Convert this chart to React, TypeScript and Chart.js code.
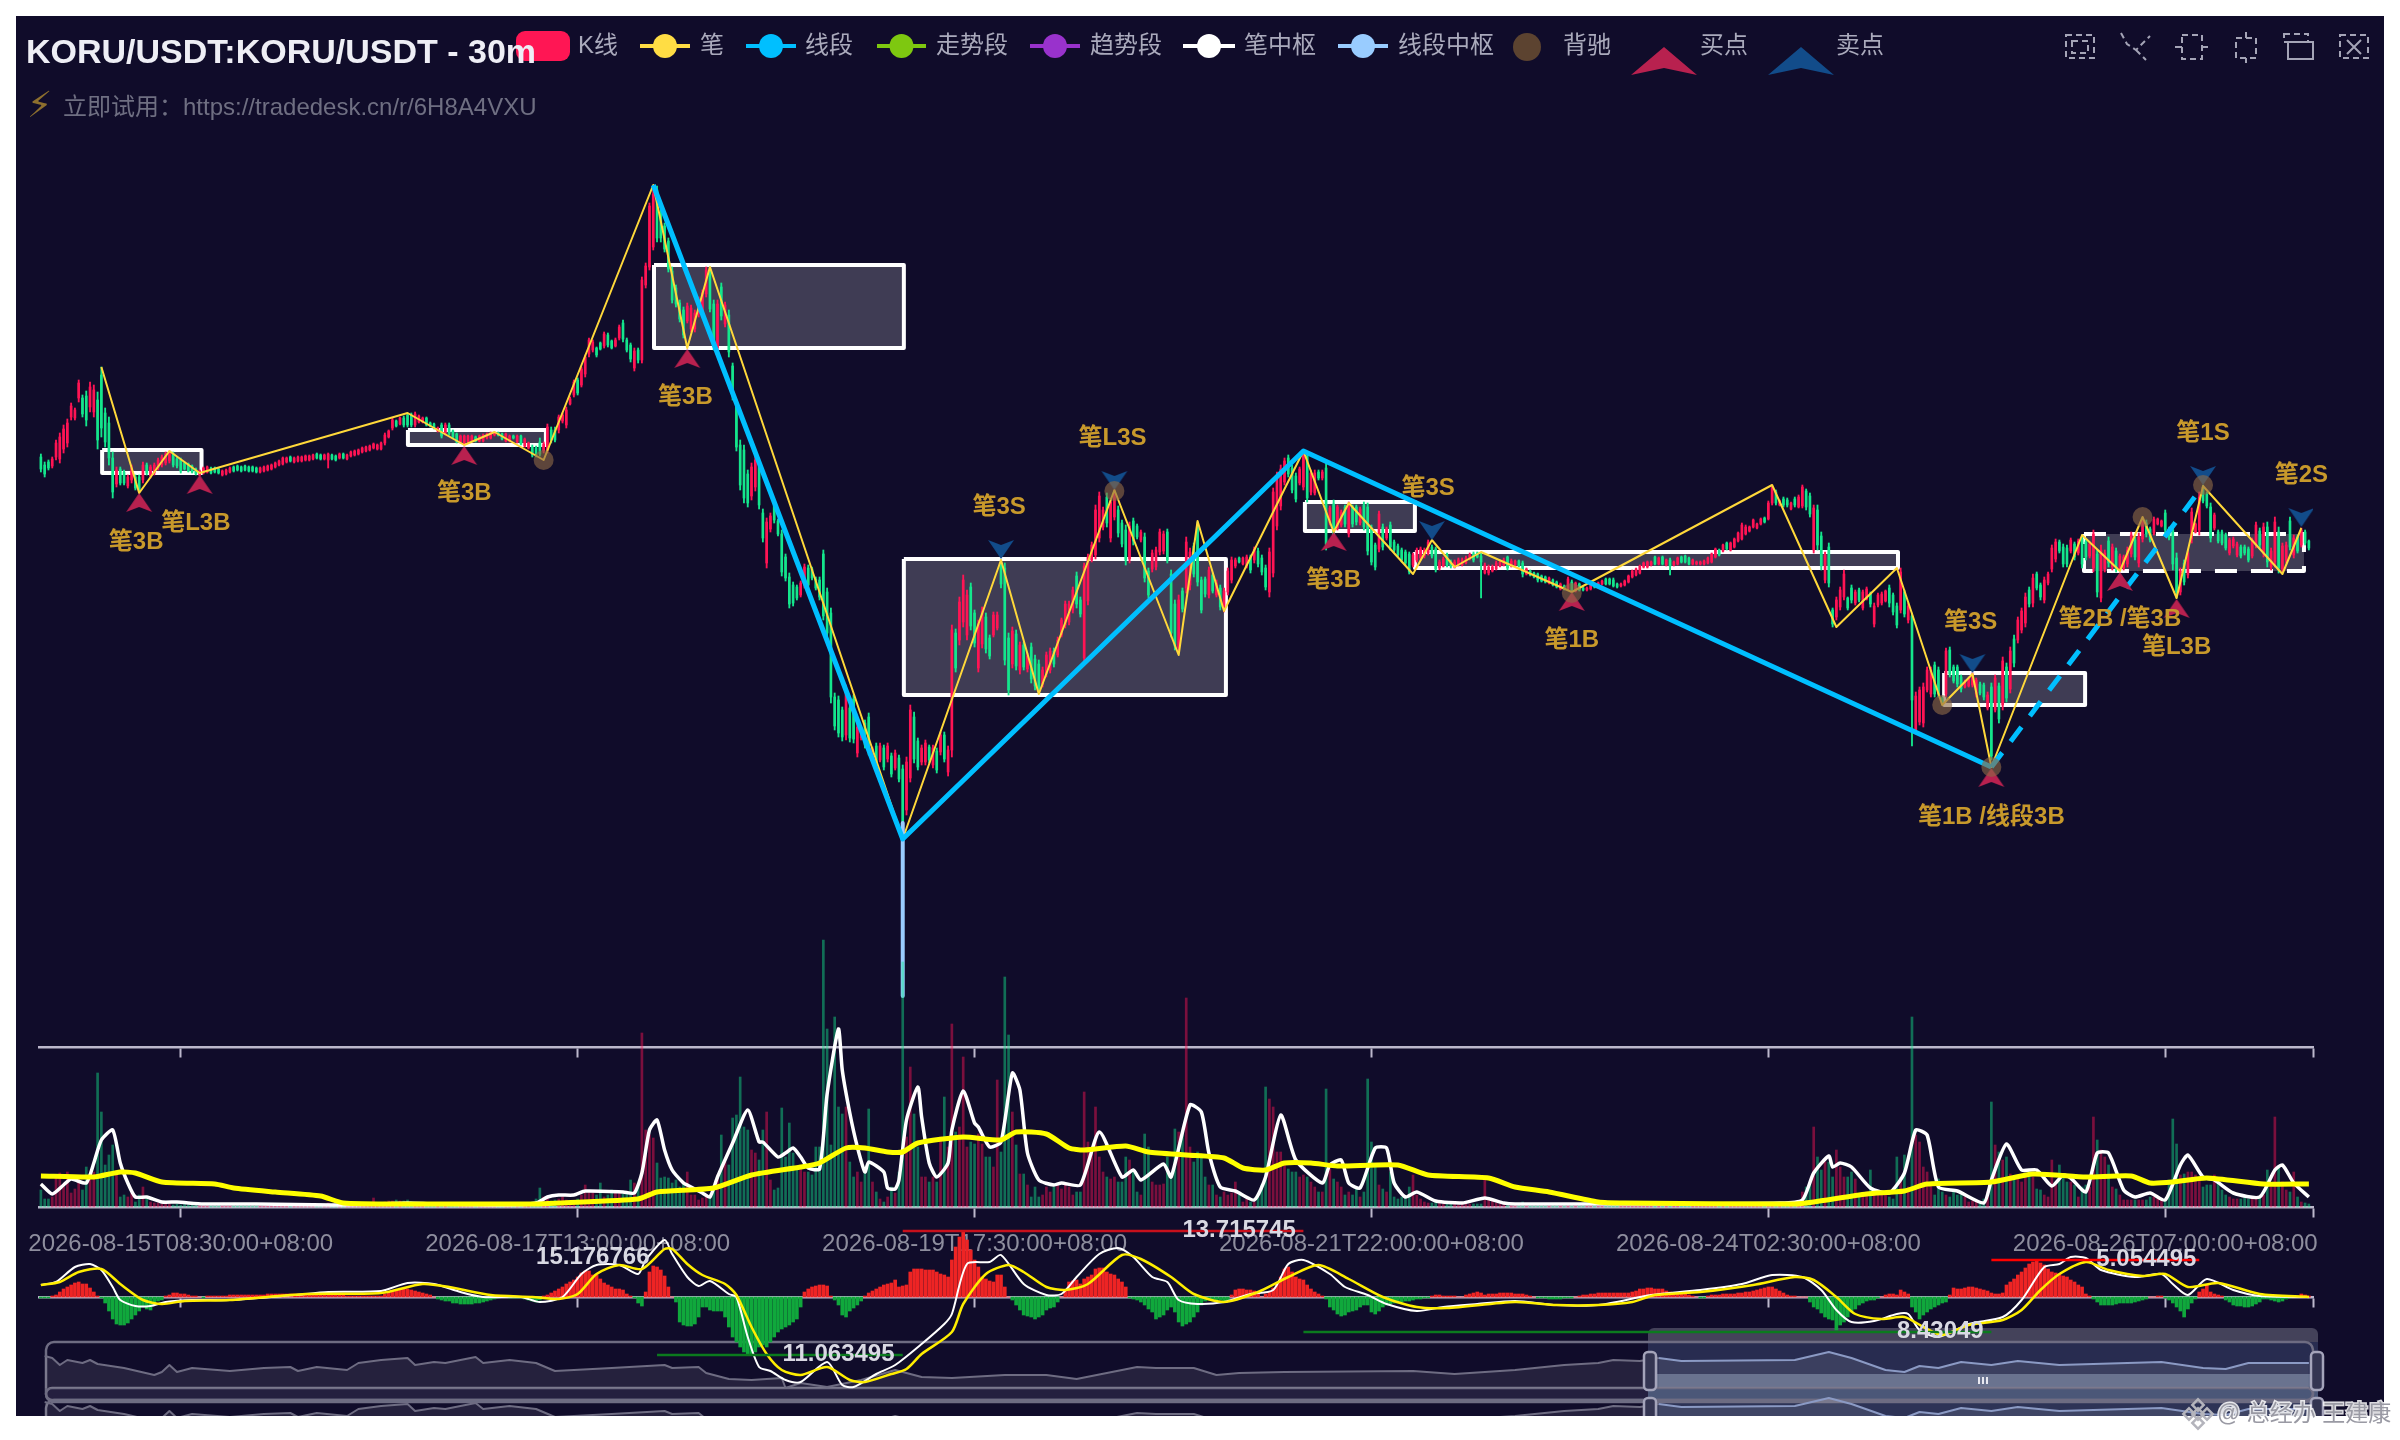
import React, { useEffect, useRef } from "react";
import { Chart, registerables } from "chart.js";
Chart.register(...registerables);

const titleText = "KORU/USDT:KORU/USDT - 30m";
const subtitleText = "立即试用：https://tradedesk.cn/r/6H8A4VXU";
const tickBars = [37, 142, 247, 352, 457, 562, 601.09];
const tickNames = ["2026-08-15T08:30:00+08:00", "2026-08-17T13:00:00+08:00", "2026-08-19T17:30:00+08:00", "2026-08-21T22:00:00+08:00", "2026-08-24T02:30:00+08:00", "2026-08-26T07:00:00+08:00", ""];

const highs = [
546,538,540,543,560,567,575,581,597,592,
620,605,609,618,615,608,633,592,583,548,
533,533,530,525,535,525,525,538,537,535,
537,542,545,548,549,548,543,542,538,537,
535,532,530,533,534,533,533,532,530,531,
533,534,535,534,535,534,534,533,533,534,
535,536,538,540,543,543,544,543,544,544,
545,545,546,547,546,546,547,546,545,547,
547,546,549,550,551,553,554,555,557,556,
558,567,570,582,580,583,584,587,587,588,
585,583,583,578,577,573,577,577,577,570,
567,565,565,565,565,564,565,566,567,568,
568,568,567,567,565,565,565,565,562,558,
555,554,562,558,576,573,573,585,587,593,
603,620,622,633,645,662,660,653,658,668,
667,660,662,675,680,662,657,652,652,723,
737,797,810,814,791,777,762,733,715,700,
693,697,695,690,703,710,733,733,700,700,
717,698,690,637,600,560,555,530,537,544,
542,491,482,487,500,481,470,446,427,418,
415,419,436,435,433,423,423,450,412,392,
307,304,293,315,295,305,277,273,280,287,
253,257,257,255,257,247,250,245,235,243,
295,288,262,255,260,255,255,252,268,268,
254,375,371,403,425,410,417,390,380,393,
387,365,388,388,440,437,367,373,370,358,
358,347,357,345,340,333,348,352,352,363,
382,399,399,413,428,403,437,446,458,495,
508,493,507,502,510,494,480,475,478,482,
476,470,467,432,450,453,471,469,471,430,
400,405,412,463,452,457,478,423,423,433,
427,420,415,412,432,443,442,443,443,445,
445,453,452,445,435,452,512,528,535,542,
545,535,527,533,548,548,530,530,530,530,
538,494,500,495,490,495,498,495,495,493,
498,497,475,457,489,476,473,478,460,456,
452,450,448,447,452,453,452,460,455,453,
440,443,447,440,440,442,442,444,447,448,
448,447,437,435,435,439,440,442,444,441,
440,440,439,432,430,428,427,425,424,423,
421,419,417,415,423,420,418,417,413,413,
416,417,418,420,422,422,422,417,417,420,
425,430,432,435,438,439,439,444,443,444,
441,442,439,443,444,445,443,441,439,439,
440,443,447,452,451,456,458,458,462,468,
477,475,474,481,477,482,483,499,515,510,
500,503,502,498,503,505,515,511,507,495,
495,468,448,457,392,403,413,430,403,415,
410,412,410,413,408,397,407,408,410,415,
407,397,432,410,397,387,308,313,317,333,
333,338,333,303,352,353,335,335,325,320,
323,327,322,318,317,308,317,325,317,343,
337,353,365,383,392,407,413,426,428,417,
423,428,455,461,460,456,455,462,458,461,
465,460,458,470,450,455,450,463,456,452,
446,445,453,468,463,467,482,480,473,483,
482,480,490,473,475,447,432,440,450,492,
477,508,515,508,497,487,470,470,467,462,
463,458,455,455,453,462,478,472,477,478,
452,483,473,457,458,483,465,465,472,470,
460];

const lows = [
528,523,530,532,540,537,547,553,580,580,
598,583,574,588,583,551,563,553,535,502,
513,515,515,512,517,510,507,517,525,522,
525,530,533,535,537,533,532,527,530,528,
527,525,524,526,527,526,527,526,524,525,
527,528,529,528,529,528,528,527,527,528,
529,530,532,534,535,537,538,537,538,538,
539,539,540,541,540,540,532,540,539,541,
541,540,543,544,545,547,548,549,551,550,
550,555,562,570,573,575,573,573,573,573,
577,577,574,573,571,568,562,565,565,562,
557,557,555,557,558,558,558,558,561,561,
564,564,560,558,558,561,557,555,553,551,
543,543,544,547,547,557,558,567,577,572,
595,603,605,613,623,643,648,643,650,652,
653,651,653,660,658,648,638,629,637,637,
712,730,750,758,758,748,728,697,693,678,
662,677,668,668,683,683,703,688,650,648,
680,673,643,600,549,510,497,493,500,509,
491,458,432,468,477,464,424,419,392,394,
400,403,412,412,420,410,400,380,363,297,
270,263,259,260,258,257,243,260,252,245,
240,233,238,230,238,223,230,218,162,185,
218,237,230,235,235,237,232,227,245,238,
224,243,328,355,373,360,370,353,328,352,
347,341,363,370,412,335,305,332,330,326,
330,328,317,310,307,313,323,327,333,343,
363,372,375,387,392,383,338,395,438,441,
458,470,473,458,480,463,453,435,437,455,
461,458,418,402,428,430,445,446,437,363,
350,347,388,407,410,423,414,387,403,402,
407,403,390,388,405,417,432,437,435,432,
427,437,433,425,410,403,423,470,490,515,
523,507,498,515,510,498,505,505,520,520,
450,475,460,470,473,473,463,473,475,475,
470,445,435,430,448,450,460,450,448,443,
438,435,426,433,438,440,442,445,442,428,
430,433,433,432,432,434,434,436,440,438,
442,402,426,425,428,430,433,434,430,433,
434,433,423,425,424,422,418,418,417,416,
414,412,410,410,410,408,408,409,409,409,
410,412,412,415,415,415,413,412,413,414,
417,422,424,426,432,432,434,435,435,435,
434,425,434,435,437,437,435,435,435,435,
435,436,437,442,444,448,450,449,452,458,
460,465,468,472,471,475,477,480,495,495,
494,493,493,490,493,492,492,490,483,447,
450,430,417,413,373,380,390,400,390,397,
395,398,390,400,393,373,393,395,398,393,
385,372,387,383,377,254,267,275,273,308,
303,303,303,295,303,323,317,313,308,312,
313,313,303,305,300,290,240,288,277,290,
298,307,333,357,367,373,393,393,410,400,
397,415,428,438,447,433,433,447,440,445,
432,440,442,428,403,398,428,433,430,428,
430,430,433,443,440,433,458,463,458,465,
475,473,467,460,430,402,405,415,422,457,
467,465,497,492,458,470,457,455,450,445,
452,443,442,445,438,442,452,452,443,433,
430,433,427,428,437,450,442,447,453,455,
450];

const opens = [
543,535,538,534,543,541,551,557,583,582,
602,602,604,593,588,600,625,587,577,542,
516,531,528,514,520,523,523,520,535,524,
527,532,535,537,539,546,541,540,537,536,
534,531,525,527,528,532,532,531,525,526,
528,533,534,533,534,533,533,532,528,529,
530,531,533,535,536,538,543,538,539,539,
540,540,541,546,545,541,540,545,544,542,
546,541,544,545,546,548,549,550,552,551,
551,557,563,572,579,576,582,585,585,575,
578,578,582,577,576,569,575,567,575,569,
566,558,556,558,559,563,559,559,562,562,
565,567,566,559,559,564,558,564,554,552,
553,552,558,549,550,570,570,570,579,575,
596,605,620,615,626,646,650,652,657,654,
665,659,654,662,677,660,655,632,650,640,
715,733,753,810,787,774,759,729,712,697,
690,679,671,671,686,686,706,730,696,652,
713,676,685,634,595,555,550,526,504,513,
537,487,437,471,497,479,466,443,423,415,
413,405,415,432,431,421,420,446,408,387,
303,300,290,265,292,301,247,262,277,283,
242,254,240,252,241,244,232,242,231,190,
222,283,259,238,238,253,235,249,248,265,
228,250,367,360,378,365,413,387,332,356,
383,362,365,372,437,432,362,336,366,330,
355,331,353,341,336,316,326,330,349,345,
365,375,378,390,424,400,342,399,440,445,
462,473,503,462,483,490,477,470,441,479,
474,460,463,429,431,433,448,449,468,426,
396,352,409,412,415,454,474,420,421,405,
425,405,412,391,408,420,434,442,436,434,
443,440,449,442,432,408,427,474,494,518,
542,532,524,517,513,544,508,507,528,522,
532,477,496,472,475,493,466,493,493,477,
495,493,472,455,451,473,462,475,458,454,
450,448,446,435,440,442,444,447,453,451,
432,434,445,438,433,435,435,437,441,446,
447,444,427,427,429,431,434,435,443,434,
435,439,437,426,429,427,426,424,423,417,
420,418,411,414,411,418,409,416,412,410,
411,416,413,416,421,421,420,416,414,415,
418,423,425,427,433,433,435,443,436,443,
435,440,435,436,443,444,442,436,436,436,
436,437,438,443,450,449,457,450,453,459,
461,466,469,473,472,476,482,481,497,508,
495,501,500,491,501,493,494,509,504,450,
490,464,420,453,390,383,393,403,402,412,
397,410,392,401,406,376,395,397,399,412,
405,394,390,408,380,384,270,278,277,310,
306,335,330,302,306,350,333,333,323,313,
314,315,306,316,315,292,313,290,314,295,
333,311,361,360,370,377,410,397,426,415,
400,417,431,441,458,453,452,449,456,447,
461,458,444,432,446,402,431,459,433,449,
432,432,436,446,460,437,461,477,471,467,
476,474,487,471,470,442,408,437,425,461,
468,470,513,506,493,472,468,468,465,447,
454,445,453,453,451,444,455,469,447,473,
433,438,468,431,440,479,445,463,455,468,
459];

const closes = [
531,526,532,541,557,563,571,577,594,590,
617,586,580,613,610,560,572,558,542,508,
530,517,517,523,532,512,509,535,527,533,
535,540,543,546,547,535,534,529,531,529,
528,526,529,532,533,527,528,527,529,530,
532,529,530,529,530,529,529,528,532,533,
534,535,537,539,542,542,539,542,543,543,
544,544,545,542,541,545,546,541,540,546,
542,545,548,549,550,552,553,554,556,555,
557,565,569,580,574,582,575,575,575,586,
584,582,575,574,572,572,564,575,567,563,
558,564,564,564,564,559,564,565,566,567,
567,565,561,566,564,562,564,556,561,557,
545,545,546,556,573,560,560,583,585,590,
601,618,607,631,643,660,658,645,651,666,
655,652,660,673,661,650,641,649,640,720,
734,794,806,762,762,751,731,700,696,681,
665,694,692,687,700,707,730,691,653,696,
684,695,648,604,553,515,502,497,533,540,
495,462,478,484,480,466,428,422,396,397,
402,417,433,415,422,412,403,384,367,303,
274,267,263,310,262,261,273,271,255,249,
251,236,254,233,254,226,247,221,170,238,
290,241,233,252,257,240,252,230,265,241,
250,370,332,398,420,405,374,357,376,389,
351,344,385,385,416,340,310,369,334,355,
333,344,321,314,311,330,345,349,336,360,
380,396,396,410,396,386,434,443,455,490,
504,490,477,498,507,467,456,440,474,459,
463,468,422,405,447,450,468,466,440,367,
354,400,391,458,448,426,418,390,406,430,
409,417,393,409,429,440,440,438,442,443,
430,451,436,428,413,448,508,524,531,539,
526,510,501,531,545,502,527,527,522,528,
456,492,464,493,488,476,495,476,478,491,
473,449,438,433,486,453,471,453,450,445,
440,437,428,445,450,451,450,458,444,431,
438,441,435,434,438,440,440,442,445,440,
443,438,435,433,433,437,438,440,432,439,
439,434,426,431,425,423,420,419,418,422,
415,413,416,411,421,410,417,410,410,412,
415,413,417,419,416,416,414,413,416,419,
424,429,431,434,437,438,438,436,442,436,
440,434,438,442,438,438,436,440,438,438,
439,442,446,451,445,455,451,457,461,467,
475,473,473,480,476,481,478,497,513,497,
499,495,495,497,495,503,513,493,486,492,
455,434,445,417,376,400,410,426,392,400,
408,400,408,411,396,394,405,406,409,397,
388,375,428,386,394,300,304,310,313,330,
330,306,306,297,349,326,319,316,311,318,
321,325,320,307,303,305,244,322,281,339,
302,349,337,380,389,403,396,422,412,403,
420,426,452,458,449,436,436,460,443,459,
436,443,456,466,408,450,447,437,453,431,
444,443,450,465,443,463,479,466,460,481,
481,479,470,462,436,408,429,418,447,488,
476,503,499,494,462,485,459,457,452,460,
461,456,444,447,440,460,475,455,473,438,
449,478,432,454,455,453,462,449,470,457,
452];

const volumes = [
17,8,8,10,29,34,20,35,14,18,30,17,40,29,35,134,95,42,52,62,
32,10,12,10,14,5,12,20,9,5,4,4,3,3,3,2,3,2,3,2,
2,3,2,2,3,2,2,3,2,2,3,2,2,3,2,2,2,3,2,2,
3,2,2,3,2,2,3,2,2,2,3,2,2,2,3,2,4,2,2,2,
2,3,2,2,3,2,3,2,9,4,4,5,6,6,7,6,6,7,5,4,
4,3,3,2,3,2,2,3,2,2,3,2,2,2,3,2,3,2,2,3,
2,2,3,2,2,3,2,2,3,4,5,8,19,10,10,6,7,8,10,7,
6,6,8,12,22,16,14,12,24,10,12,17,15,14,13,14,27,24,20,174,
77,72,69,44,29,30,29,24,27,20,24,35,12,12,7,9,10,12,20,32,
72,45,42,89,92,130,80,77,57,54,47,77,95,27,17,19,99,50,84,54,
40,40,35,35,32,60,60,267,178,62,190,100,93,100,45,30,35,25,40,98,
25,15,8,5,10,20,14,35,245,70,140,93,60,30,30,25,30,25,70,110,
60,183,75,80,150,60,65,63,73,63,50,50,40,127,55,230,172,95,62,33,
33,22,10,20,10,12,20,15,20,22,18,22,20,12,15,15,115,65,60,100,
50,35,30,28,30,25,25,50,47,35,15,12,73,60,25,22,22,23,50,30,
78,75,75,209,60,45,55,50,30,22,22,12,10,15,12,14,25,12,5,8,
5,5,10,22,120,108,100,55,55,45,38,35,35,30,32,30,25,20,15,15,
118,38,28,25,20,12,15,12,18,10,15,128,65,40,22,18,15,35,10,8,
10,10,20,32,12,8,5,4,4,5,5,3,3,3,3,2,3,3,3,3,
3,3,27,8,6,4,3,3,2,3,3,3,5,3,2,3,2,2,3,2,
2,3,2,2,3,2,2,3,2,2,3,2,2,3,2,2,3,2,2,2,
3,2,2,3,2,2,3,2,2,3,2,2,3,2,2,3,2,2,3,2,
2,3,2,2,3,2,2,3,2,3,2,3,2,3,4,3,3,3,4,3,
3,3,4,3,5,5,15,20,25,80,50,37,45,45,30,57,40,30,30,35,
28,12,12,15,37,15,12,12,12,10,8,50,30,52,20,190,72,65,40,35,
22,12,28,15,12,10,15,12,12,10,5,6,5,5,8,15,105,62,55,47,
50,33,30,28,25,30,38,30,18,17,12,10,47,22,42,30,25,25,22,10,
20,22,20,90,67,57,50,42,20,18,12,7,7,7,7,7,7,7,10,10,
8,7,8,27,88,63,32,33,35,35,32,30,20,22,22,32,25,17,12,10,
8,8,8,10,8,8,8,10,12,37,20,90,40,25,17,15,35,10,5,4,
3];

const ma5Bars = [0,3,6,8,12,14,16,19,21,23,25,28,32,36,43,57,77,90,97,104,124,131,134,137,141,144,154,157,159,161,163,165,167,170,171,175,177,179,183,187,190,191,195,197,199,201,203,206,208,211,212,214,216,218,219,223,224,226,227,229,232,233,235,237,240,241,244,247,248,251,254,257,259,261,264,268,270,275,280,286,289,291,297,299,304,307,309,312,316,321,324,328,332,339,341,344,346,349,353,356,358,361,364,369,376,382,387,390,412,426,460,466,469,473,474,476,479,484,489,493,496,499,502,507,514,516,520,524,528,532,535,537,541,544,547,551,554,558,562,566,568,572,575,580,587,591,593,596,600];
const ma5Vals = [23,13,22,28,24,44,67,77,44,24,10,10,5,5,3,3,2,3,4,3,2,4,10,12,12,16,15,14,34,77,87,57,37,24,22,14,10,30,64,97,65,65,50,54,59,50,39,38,113,178,137,94,60,35,45,35,19,18,27,87,120,90,44,30,44,77,116,84,80,60,65,134,117,54,27,22,24,22,75,30,37,27,43,30,102,95,54,20,16,7,30,92,47,24,42,47,24,19,59,59,24,10,15,6,4,9,4,3,3,3,4,7,34,51,40,44,40,19,14,34,77,72,20,16,4,27,63,37,37,21,32,29,15,54,54,17,10,14,7,42,52,30,27,14,10,37,42,24,10];
const ma20Bars = [0,14,21,25,32,46,51,62,74,80,97,131,137,158,163,178,188,201,206,213,218,224,228,232,244,254,258,266,272,276,287,293,303,313,318,324,329,336,343,359,367,383,390,399,412,419,464,469,483,493,499,516,527,541,553,558,564,573,588,600];
const ma20Vals = [31,30,35,34,25,23,19,15,11,4,3,3,4,8,15,19,32,40,44,59,59,55,55,64,70,67,75,73,59,57,61,55,52,49,39,37,44,44,41,42,32,29,20,15,5,4,3,5,13,16,23,25,33,30,31,24,25,29,23,23];

const macdHist = [
-1,-1,-1,1,2,5,8,10,12,14,15,13,13,9,5,1,-1,-6,-14,-22,
-27,-28,-28,-26,-22,-18,-14,-10,-12,-13,-8,-4,-3,1,2,4,4,3,3,2,
1,1,0,-1,1,1,1,1,1,1,2,2,2,2,2,2,2,2,2,2,
3,3,3,3,3,3,3,3,3,3,3,3,3,2,2,2,2,2,2,2,
2,1,1,1,1,1,1,1,1,1,1,3,5,5,7,8,8,8,7,6,
5,4,3,2,0,-2,-3,-4,-4,-6,-6,-7,-7,-7,-7,-6,-6,-5,-4,-3,
-2,-1,0,0,-1,-1,-1,-1,-2,-3,-4,-5,-3,1,2,4,6,8,10,13,
15,17,20,24,26,26,22,22,18,14,12,10,8,8,7,3,1,-1,-6,-9,
5,25,31,30,27,21,10,0,-5,-25,-28,-29,-29,-27,-20,-10,-10,-13,-14,-14,
-14,-20,-30,-40,-45,-50,-55,-58,-58,-55,-50,-48,-50,-45,-40,-35,-32,-30,-28,-25,
-22,-10,5,8,10,11,12,12,11,1,-3,-8,-18,-20,-14,-11,-8,-4,1,4,
6,8,10,12,13,14,17,10,11,12,25,28,28,28,27,27,27,25,23,22,
20,37,50,60,65,57,47,37,30,20,18,16,15,22,22,10,0,-3,-8,-13,
-18,-19,-20,-22,-20,-18,-13,-11,-10,-5,0,7,15,16,17,13,18,20,22,28,
29,29,25,23,22,18,15,10,-1,-2,-3,-5,-8,-12,-15,-22,-20,-18,-13,-10,
-15,-25,-29,-27,-25,-20,-15,-8,-4,-3,-3,-3,-3,-4,-3,2,7,8,8,7,
7,6,5,0,3,5,9,13,20,28,30,25,20,18,17,12,8,5,3,1,
-2,-10,-13,-17,-19,-18,-15,-14,-13,-10,-8,-8,-15,-17,-14,-10,-8,-7,-6,-6,
-5,-4,-4,-3,-2,-2,-1,-1,1,2,2,1,1,1,1,0,0,2,3,4,
5,4,2,3,3,3,4,4,4,4,3,3,3,2,1,0,-1,-1,-1,-2,
-2,-2,-2,-1,-1,-1,0,1,2,2,3,3,4,4,4,4,4,4,4,4,
4,5,6,8,8,9,9,8,8,8,6,5,4,4,3,3,2,1,0,-1,
-1,1,2,2,2,3,3,3,3,4,4,5,5,6,7,8,9,10,10,8,
6,4,2,1,1,0,0,0,-5,-10,-12,-16,-20,-22,-23,-33,-28,-25,-20,-15,
-12,-8,-6,-4,-3,-3,-1,0,2,3,3,2,7,5,3,-10,-15,-22,-18,-15,
-12,-10,-8,-6,-5,2,9,8,8,9,10,10,9,8,7,6,4,3,3,4,
12,15,18,22,25,29,33,35,37,34,32,28,25,24,23,21,20,17,15,12,
10,3,1,-2,-5,-8,-8,-8,-8,-7,-6,-6,-6,-6,-5,-4,-3,-2,0,0,
1,1,-1,-3,-6,-10,-14,-20,-12,-6,-2,5,8,12,5,3,2,1,-3,-5,
-8,-9,-9,-10,-10,-9,-7,-5,-2,-2,-3,-4,-5,-4,-2,-1,0,1,3,2,
1];

const difBars = [0,4,9,13,16,19,21,25,29,33,40,50,67,76,90,97,104,111,117,127,132,138,143,147,153,158,160,165,167,171,174,177,182,184,187,190,193,197,201,208,212,215,221,226,233,239,241,245,251,254,260,266,270,274,280,285,289,294,298,301,306,313,320,326,330,334,341,345,351,356,364,371,380,390,401,412,426,439,450,458,466,471,475,479,485,491,494,497,502,510,519,524,530,534,537,541,545,554,561,564,568,573,580,587,600];
const difVals = [12,15,30,33,27,10,-3,-9,-9,-5,-3,-3,2,5,6,14,13,5,0,0,-5,0,23,32,32,23,37,57,43,20,11,16,3,0,-40,-70,-74,-83,-85,-65,-88,-90,-77,-68,-47,-27,-17,33,35,42,13,2,3,20,43,49,40,20,15,-3,-7,-5,3,7,33,37,23,10,2,-7,-14,-10,-7,-4,-8,-8,2,7,13,22,20,7,-13,-25,-24,-17,-17,-33,-40,-27,-20,-3,30,33,40,39,27,20,23,13,2,18,7,1,0];
const deaBars = [0,5,10,16,21,27,32,38,50,70,90,101,108,119,130,137,142,147,153,159,165,167,171,175,181,184,188,192,196,201,208,214,218,225,229,233,241,244,250,256,260,266,271,277,286,291,299,305,313,322,330,338,346,355,364,372,390,401,412,421,427,439,453,464,469,475,480,487,493,498,503,510,519,524,529,534,541,547,556,562,568,576,587,600];
const deaVals = [12,15,25,28,13,-3,-7,-4,-3,3,4,13,10,2,0,-2,3,23,32,28,48,48,33,22,13,2,-30,-57,-73,-78,-70,-83,-85,-77,-72,-57,-35,-7,23,32,25,10,7,13,42,38,20,3,-5,5,20,32,18,0,-10,-11,-5,-8,-8,-5,2,5,12,20,17,0,-17,-22,-20,-30,-38,-28,-23,-13,7,23,35,27,21,23,10,14,3,0];

const markLineBars = [[228, 334], [163, 228], [334, 516], [516, 571]];
const markLineVals = [66, -58, -35, 37];
const markLineColors = ["#c8101c", "#0b7a1e", "#0b7a1e", "#ff0000"];
const markTexts = ["13.715745", "11.063495", "8.43049", "5.054495", "15.176766"];
const markTextBars = [317, 211, 502.5, 557, 146];
const markTextVals = [66, -58, -35, 37, 39];

const biBars = [16,26,34,42,97,112,120,133,162,171,177,228,254,264,284,301,306,313,334,342,346,363,368,374,381,405,458,475,491,503,511,516,540,550,556,565,572,593,598];
const biVals = [633,507,549,527,587,555,568,540,815,652,733,161,440,306,510,345,479,389,549,468,497,426,460,433,448,408,515,373,432,295,326,233,465,429,483,402,514,426,472];
const segBars = [162, 228, 334, 516];
const segVals = [815, 161, 549, 233];
const segDashBars = [516, 572];
const segDashVals = [233, 514];
const zsLineBars = [228, 228];
const zsLineVals = [177, 4];

const boxStart = [16.2, 97.1, 162.2, 228.3, 334.4, 363.5, 503.5, 540.5];
const boxEnd = [42.5, 133.6, 228.3, 313.5, 363.5, 491.3, 540.8, 598.7];
const boxTop = [550, 570, 735, 441, 498, 448, 327, 466];
const boxBottom = [527, 555, 652, 305, 469, 432, 295, 429];
const boxDashed = [false, false, false, false, false, false, false, true];

const buyBars = [26, 42, 112, 171, 342, 405, 516, 550, 565];
const buyVals = [507, 525, 554, 651, 468, 408, 232, 428, 401];
const sellBars = [254, 284, 368, 511, 572, 598];
const sellVals = [441, 510, 460, 327, 515, 473];
const divBars = [133, 284, 405, 503, 516, 556, 572];
const divVals = [540, 509, 407, 295, 233, 483, 515];

const signalTexts = ["笔3B", "笔L3B", "笔3B", "笔3B", "笔3S", "笔L3S", "笔3B", "笔3S", "笔1B", "笔3S", "笔1B /线段3B", "笔2B /笔3B", "笔L3B", "笔1S", "笔2S"];
const signalBars = [25.2, 41, 112, 170.5, 253.5, 283.5, 342, 367, 405, 510.5, 516, 550, 565, 572, 598];
const signalVals = [458, 477, 507, 603, 493, 562, 420, 512, 360, 378, 183, 381, 353, 567, 525];

const dzBars = [1,3,5,7,11,13,15,22,30,32,34,36,40,50,59,66,68,73,81,84,90,97,99,104,107,115,117,124,131,136,151,165,167,174,176,182,188,196,197,201,208,217,226,233,241,255,266,274,282,290,295,305,311,317,329,363,374,390,403,412,416,423,428,434,464,473,479,488,493,497,502,508,516,523,534,561,572,578,584,600];
const dzVals = [44,42,35,40,37,40,36,32,25,28,35,28,32,29,32,33,29,33,30,37,40,42,35,38,37,43,37,40,37,29,32,35,32,33,27,21,20,22,12,17,13,20,30,23,22,25,25,21,27,33,32,32,25,27,28,29,26,30,35,37,40,39,42,39,40,48,42,30,28,34,32,38,35,39,35,38,32,31,37,37];

const legendLabels = ["K线", "笔", "线段", "走势段", "趋势段", "笔中枢", "线段中枢", "背驰", "买点", "卖点"];
const legendColors = ["#ff1654", "#ffdd44", "#00bfff", "#7ec810", "#9932cc", "#ffffff", "#99ccff", "#5c4330", "#b8214f", "#124c8a"];
const legendTextX = [578, 700, 805, 936, 1090, 1244, 1398, 1563, 1700, 1836];
const legendLineX = [[516, 570], [640, 690], [746, 796], [877, 926], [1030, 1080], [1183, 1235], [1338, 1388], [1513, 1541], [1631, 1697], [1768, 1834]];

const watermarkText = "@ 总经办 王建康";
const FONT = '"Liberation Sans","Noto Sans CJK SC",sans-serif';
const BG = "#100c2a";
const AXIS = "#bcb8cc";
const RED = "#ff1454";
const GREEN = "#14e68c";
const xMin = -0.5;
const xMax = 601.09;

const pts = (xs: number[], ys: number[]) => xs.map((x, i) => ({ x, y: ys[i] }));

function makeArrow(color: string, up: boolean) {
  const c = document.createElement("canvas");
  c.width = 30;
  c.height = 44;
  const g = c.getContext("2d")!;
  g.fillStyle = color;
  const d = up ? 1 : -1;
  g.beginPath();
  g.moveTo(15, 22);
  g.lineTo(2, 22 + d * 19);
  g.lineTo(15, 22 + d * 14);
  g.lineTo(28, 22 + d * 19);
  g.closePath();
  g.fill();
  return c;
}

function rr(c: CanvasRenderingContext2D, x: number, y: number, w: number, h: number, r: any) {
  c.beginPath();
  c.roundRect(x, y, w, h, r);
}

const pagePlugin = {
  id: "page",
  afterLayout(chart: any) {
    for (const id of ["y", "yVol", "yMacd", "yDz1", "yDz2"]) {
      const s = chart.scales[id];
      s.top = 0; s.bottom = 1440; s.height = 1440;
      s.configure();
    }
    chart.chartArea.top = 0;
    chart.chartArea.bottom = 1440;
    chart.chartArea.height = 1440;
  },
  beforeDraw(chart: any) {
    const c: CanvasRenderingContext2D = chart.ctx;
    c.save();
    c.fillStyle = "#ffffff";
    c.fillRect(0, 0, 2400, 1440);
    c.fillStyle = BG;
    c.fillRect(16, 16, 2368, 1400);
    c.restore();
  },
  beforeDatasetsDraw(chart: any) {
    const c: CanvasRenderingContext2D = chart.ctx;
    c.save();
    c.fillStyle = "#241f3f";
    c.fillRect(46, 1388, 2267, 12);
    const wx = 1648, ww = 670;
    c.fillStyle = "#282c50"; c.fillRect(wx, 1342, ww, 32);
    c.fillStyle = "#5c6684"; c.fillRect(wx, 1374, ww, 14);
    c.fillStyle = "#4b5778"; c.fillRect(wx, 1388, ww, 12);
    c.fillStyle = "#2d3356"; c.fillRect(wx, 1400, ww, 16);
    c.fillStyle = "#44425a"; rr(c, wx, 1328, ww, 14, [6, 6, 0, 0]); c.fill();
    c.strokeStyle = "#6e6c82";
    c.lineWidth = 2.5;
    rr(c, 46, 1342, 2267, 60, 8); c.stroke();
    rr(c, 46, 1388, 2267, 12, 6); c.stroke();
    rr(c, 46, 1400, 2267, 40, 8); c.stroke();
    c.restore();
  },
  afterDraw(chart: any) {
    const c: CanvasRenderingContext2D = chart.ctx;
    const sx = chart.scales.x, sy = chart.scales.y, sm = chart.scales.yMacd;
    c.save();
    c.fillStyle = "#343552"; c.strokeStyle = "#a4a4ba"; c.lineWidth = 2.5;
    for (const hx of [1650, 2317]) {
      rr(c, hx - 6, 1352, 12, 38, 4); c.fill(); c.stroke();
      rr(c, hx - 6, 1398, 12, 40, 4); c.fill(); c.stroke();
    }
    c.fillStyle = "#e8e8f0";
    for (const tx of [1979, 1983, 1987]) c.fillRect(tx - 1, 1377, 2, 7);

    c.fillStyle = "#ffffff";
    c.fillRect(0, 1416, 2400, 24);

    c.textAlign = "center"; c.textBaseline = "middle";
    c.font = `bold 24px ${FONT}`;
    c.fillStyle = "#c8992b";
    signalTexts.forEach((t, i) => c.fillText(t, sx.getPixelForValue(signalBars[i]), sy.getPixelForValue(signalVals[i])));

    c.fillStyle = "#d9d9e3";
    markTexts.forEach((t, i) => c.fillText(t, sx.getPixelForValue(markTextBars[i]), sm.getPixelForValue(markTextVals[i]) - 1));

    c.textAlign = "left";
    c.fillStyle = "#8d6f2e";
    c.font = `36px "DejaVu Sans",${FONT}`;
    c.fillText("⚡", 27, 108);
    c.fillStyle = "#6f6f82";
    c.font = `24px ${FONT}`;
    c.fillText(subtitleText, 63, 108);

    legendLabels.forEach((label, i) => {
      const [a, b] = legendLineX[i];
      const col = legendColors[i];
      const mid = (a + b) / 2;
      if (i === 0) {
        c.fillStyle = col;
        rr(c, a, 31, b - a, 30, 9); c.fill();
      } else if (i >= 8) {
        c.fillStyle = col;
        c.beginPath();
        c.moveTo(mid, 47);
        c.lineTo(a, 75);
        c.lineTo(mid, 68);
        c.lineTo(b, 75);
        c.closePath();
        c.fill();
      } else if (i === 7) {
        c.fillStyle = col;
        c.beginPath(); c.arc(mid, 47, 14, 0, Math.PI * 2); c.fill();
      } else {
        c.fillStyle = col;
        c.fillRect(a, 44, b - a, 4);
        c.beginPath(); c.arc(mid, 46, 12, 0, Math.PI * 2); c.fill();
      }
      c.fillStyle = "#aaaabc";
      c.font = `24px ${FONT}`;
      c.fillText(label, legendTextX[i], 46);
    });

    c.fillStyle = "#eeeef5";
    c.font = `bold 34px ${FONT}`;
    c.fillText(titleText, 26, 54);

    c.strokeStyle = "#a4a4b6"; c.lineWidth = 2; c.setLineDash([6, 4]);
    c.strokeRect(2066, 35, 28, 23);
    c.strokeRect(2072, 41, 16, 12);
    c.beginPath(); c.moveTo(2121, 33); c.lineTo(2127, 44); c.lineTo(2136, 50); c.lineTo(2150, 36); c.moveTo(2136, 50); c.lineTo(2146, 60); c.stroke();
    c.strokeRect(2182, 35, 20, 24);
    c.strokeRect(2236, 38, 20, 20);
    c.strokeRect(2284, 34, 24, 8);
    c.strokeRect(2340, 35, 28, 23);
    c.setLineDash([]);
    c.strokeRect(2288, 42, 25, 17);
    c.beginPath(); c.moveTo(2347, 40); c.lineTo(2361, 54); c.moveTo(2361, 40); c.lineTo(2347, 54);
    c.moveTo(2175, 47); c.lineTo(2182, 47); c.moveTo(2202, 47); c.lineTo(2208, 47);
    c.moveTo(2246, 32); c.lineTo(2246, 38); c.moveTo(2246, 58); c.lineTo(2246, 63); c.stroke();

    c.fillStyle = "#9a9aa4";
    c.font = `23px ${FONT}`;
    c.strokeStyle = "rgba(255,255,255,0.85)"; c.lineWidth = 3;
    c.strokeText(watermarkText, 2217, 1415);
    c.fillText(watermarkText, 2217, 1415);
    c.lineWidth = 2.5;
    c.strokeStyle = "#b4b4bc";
    for (const [dx, dy] of [[0, -9], [-9, 0], [9, 0], [0, 9], [0, 0]]) {
      c.save(); c.translate(2198 + dx, 1414 + dy); c.rotate(Math.PI / 4); c.strokeRect(-4, -4, 8, 8); c.restore();
    }
    c.restore();
  },
};

function xAxis(yPos: number, withLabels: boolean) {
  return {
    type: "linear", axis: "x", min: xMin, max: xMax, offset: false,
    position: { y: yPos },
    border: { color: AXIS, width: 2.5 },
    grid: { offset: false, drawOnChartArea: false, drawTicks: true, tickLength: 9, tickWidth: 2, tickColor: AXIS, color: AXIS },
    ticks: {
      display: withLabels, autoSkip: false, maxRotation: 0, minRotation: 0, padding: 14, color: "#8e8e9e",
      font: { size: 24, family: FONT },
      callback: (v: number) => { const k = tickBars.indexOf(v); return k >= 0 ? tickNames[k] : ""; },
    },
    afterBuildTicks: (s: any) => { s.ticks = tickBars.map((value) => ({ value })); },
    afterFit: (s: any) => { s.height = 0; },
  };
}

function hiddenY(min: number, max: number) {
  return { type: "linear", min, max, display: false, beginAtZero: false, ticks: { display: false } };
}

export default function App() {
  const ref = useRef<HTMLCanvasElement>(null);
  useEffect(() => {
    document.body.style.margin = "0";
    document.body.style.background = "#ffffff";
    const n = highs.length;
    const idx = Array.from({ length: n }, (_, i) => i);
    const candleColor = idx.map((i) => (closes[i] >= opens[i] ? RED : GREEN));
    const volColor = idx.map((i) => (closes[i] >= opens[i] ? "rgba(255,20,84,0.45)" : "rgba(20,230,140,0.45)"));
    const histColor = macdHist.map((v) => (v >= 0 ? "#ee2424" : "#10a83c"));
    const line = (label: string, xs: number[], ys: number[], color: string, width: number, yAxisID = "y", extra: any = {}) => ({
      type: "line", label, data: pts(xs, ys), borderColor: color, borderWidth: width, pointRadius: 0, yAxisID, xAxisID: "x",
      backgroundColor: "transparent", fill: false, borderJoinStyle: "round", ...extra,
    });
    const scatter = (label: string, xs: number[], ys: number[], style: any, color: string, r: number) => ({
      type: "scatter", label, data: pts(xs, ys), pointStyle: style, pointRadius: r, pointBackgroundColor: color, pointBorderWidth: 0, yAxisID: "y", xAxisID: "x",
    });
    const boxSets: any[] = [];
    const boxFills: any[] = [];
    boxStart.forEach((s, i) => {
      const e = boxEnd[i], t = boxTop[i], b = boxBottom[i];
      boxSets.push(line(`笔中枢${i}`, [s, e, e, s, s], [t, t, b, b, t], "#ffffff", 4, "y", boxDashed[i] ? { borderDash: [22, 14] } : {}));
      boxFills.push(line(`笔中枢填充${i}`, [s, e], [t, t], "transparent", 0, "y", { fill: { value: b }, backgroundColor: "rgba(255,255,255,0.2)" }));
    });
    const dzSegment = { borderColor: (ctx: any) => (ctx.p0.parsed.x >= 427 ? "#8b9ac4" : "#6e6c82") };
    const datasets: any[] = [
      ...markLineBars.map((b, i) => line(`mark${i}`, b, [markLineVals[i], markLineVals[i]], markLineColors[i], 2.5, "yMacd")),
      line("DEA", deaBars, deaVals, "#ffee00", 2.5, "yMacd", { tension: 0.25 }),
      line("DIF", difBars, difVals, "#ffffff", 2, "yMacd", { tension: 0.25 }),
      { type: "bar", label: "MACD", data: macdHist.map((v, i) => ({ x: i, y: v })), backgroundColor: histColor, barThickness: 3, grouped: false, yAxisID: "yMacd", xAxisID: "x" },
      line("MA20", ma20Bars, ma20Vals, "#ffff00", 5, "yVol", { tension: 0.2 }),
      line("MA5", ma5Bars, ma5Vals, "#ffffff", 3.5, "yVol", { tension: 0.2 }),
      { type: "bar", label: "成交量", data: volumes.map((v, i) => ({ x: i, y: v })), backgroundColor: volColor, barThickness: 2, grouped: false, yAxisID: "yVol", xAxisID: "x" },
      scatter("背驰", divBars, divVals, "circle", "rgba(140,105,70,0.62)", 10),
      scatter("卖点", sellBars, sellVals, makeArrow("#124c8a", false), "#124c8a", 10),
      scatter("买点", buyBars, buyVals, makeArrow("#b8214f", true), "#b8214f", 10),
      line("线段虚线", segDashBars, segDashVals, "#00bfff", 5, "y", { borderDash: [18, 14] }),
      line("线段", segBars, segVals, "#00bfff", 5),
      line("线段中枢", zsLineBars, zsLineVals, "#99ccff", 4),
      line("笔", biBars, biVals, "#ffd83a", 2),
      { type: "bar", label: "K线实体", data: idx.map((i) => ({ x: i, y: [opens[i], closes[i]] })), backgroundColor: candleColor, barThickness: 2, grouped: false, yAxisID: "y", xAxisID: "x" },
      { type: "bar", label: "K线影线", data: idx.map((i) => ({ x: i, y: [lows[i], highs[i]] })), backgroundColor: candleColor, barThickness: 1.2, grouped: false, yAxisID: "y", xAxisID: "x" },
      ...boxSets,
      ...boxFills,
      line("dz1", dzBars, dzVals, "#6e6c82", 2, "yDz1", { fill: { value: 12 }, backgroundColor: "rgba(255,255,255,0.09)", segment: dzSegment }),
      line("dz2", dzBars, dzVals, "#6e6c82", 2, "yDz2", { fill: { value: 0 }, backgroundColor: "rgba(255,255,255,0.09)", segment: dzSegment }),
    ];
    const chart = new Chart(ref.current as any, {
      type: "bar",
      data: { datasets },
      plugins: [pagePlugin],
      options: {
        animation: false, responsive: false, maintainAspectRatio: false, devicePixelRatio: 1, events: [],
        layout: { padding: { left: 39, right: 87, top: 0, bottom: 0 } },
        plugins: { legend: { display: false }, title: { display: false }, tooltip: { enabled: false } },
        scales: {
          x: xAxis(-207, true),
          xTop: xAxis(-47, false),
          xMacd: xAxis(-297, false),
          y: hiddenY(-440, 1000),
          yVol: hiddenY(-233, 1207),
          yMacd: hiddenY(-143, 1297),
          yDz1: hiddenY(-40, 1400),
          yDz2: hiddenY(6, 1446),
        },
      } as any,
    } as any);
    return () => chart.destroy();
  }, []);
  return <canvas ref={ref} width={2400} height={1440} style={{ display: "block", width: 2400, height: 1440 }} />;
}
